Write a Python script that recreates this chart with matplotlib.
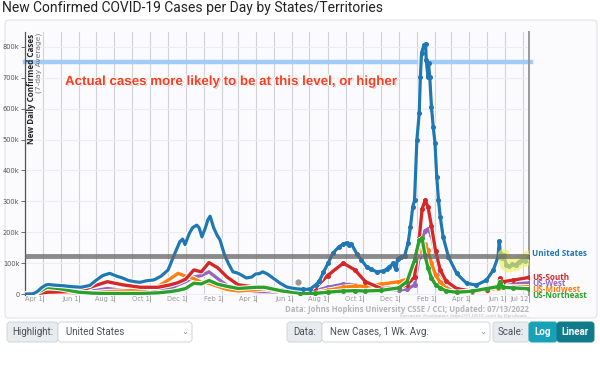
import numpy as np
import pandas as pd
import matplotlib
matplotlib.use('Agg')
import matplotlib.pyplot as plt
import matplotlib.dates as mdates
import matplotlib.patheffects as pe
from matplotlib.patches import FancyBboxPatch
from matplotlib.ticker import FuncFormatter, MultipleLocator

# ---- data (7-day average of new cases, in thousands) ----
us_dates = ['2020-03-01', '2020-03-15', '2020-03-22', '2020-03-29', '2020-04-05', '2020-04-10',
            '2020-04-20', '2020-05-05', '2020-05-20', '2020-06-05', '2020-06-20', '2020-07-01',
            '2020-07-12', '2020-07-24', '2020-08-05', '2020-08-15', '2020-08-25', '2020-09-05',
            '2020-09-14', '2020-09-25', '2020-10-08', '2020-10-20', '2020-11-01', '2020-11-10',
            '2020-11-21', '2020-11-26', '2020-11-30', '2020-12-07', '2020-12-13', '2020-12-20',
            '2020-12-24', '2020-12-29', '2021-01-04', '2021-01-08', '2021-01-12', '2021-01-18',
            '2021-01-24', '2021-01-29', '2021-02-05', '2021-02-12', '2021-02-20', '2021-02-28',
            '2021-03-08', '2021-03-15', '2021-03-24', '2021-03-31', '2021-04-06', '2021-04-12',
            '2021-04-20', '2021-05-01', '2021-05-12', '2021-05-23', '2021-06-05', '2021-06-20',
            '2021-07-02', '2021-07-12', '2021-07-18', '2021-07-25', '2021-08-02', '2021-08-10',
            '2021-08-20', '2021-08-28', '2021-09-03', '2021-09-07', '2021-09-11', '2021-09-20',
            '2021-09-28', '2021-10-07', '2021-10-15', '2021-10-24', '2021-11-04', '2021-11-10',
            '2021-11-15', '2021-11-21', '2021-11-26', '2021-11-29', '2021-12-05', '2021-12-11',
            '2021-12-17', '2021-12-21', '2021-12-25', '2021-12-28', '2022-01-01', '2022-01-05',
            '2022-01-07', '2022-01-09', '2022-01-13', '2022-01-16', '2022-01-17', '2022-01-20',
            '2022-01-21', '2022-01-23', '2022-01-26', '2022-01-29', '2022-02-01', '2022-02-04',
            '2022-02-07', '2022-02-10', '2022-02-15', '2022-02-24', '2022-03-10', '2022-03-27',
            '2022-04-13', '2022-04-30', '2022-05-12', '2022-05-20', '2022-05-22', '2022-05-24',
            '2022-05-27', '2022-05-30', '2022-06-03', '2022-06-08', '2022-06-13', '2022-06-19',
            '2022-06-25', '2022-06-30', '2022-07-05', '2022-07-12']
us_cases = [0, 1, 8, 20, 29, 31,
            29, 27, 24, 22, 28, 45,
            60, 67, 58, 52, 44, 40,
            38, 43, 46, 58, 78, 120,
            169, 178, 160, 195, 215, 223,
            215, 185, 215, 240, 252, 215,
            190, 175, 130, 100, 72, 68,
            60, 52, 55, 65, 66, 72,
            65, 50, 35, 23, 18, 15,
            16, 30, 42, 70, 100, 132,
            152, 162, 166, 158, 162, 131,
            110, 88, 80, 72, 75, 80,
            88, 99, 80, 115, 120, 124,
            165, 218, 283, 304, 498, 585,
            703, 780, 806, 810, 757, 703,
            747, 703, 606, 541, 489, 380,
            304, 250, 185, 121, 67, 35,
            29, 45, 78, 121, 172, 132,
            116, 126, 95, 90, 96, 94,
            105, 110, 108, 121]

region_dates = ['2020-03-01', '2020-03-20', '2020-04-08', '2020-05-01', '2020-06-01', '2020-06-25',
                '2020-07-20', '2020-08-15', '2020-09-15', '2020-10-15', '2020-11-05', '2020-11-18',
                '2020-12-01', '2020-12-15', '2020-12-28', '2021-01-10', '2021-01-25', '2021-02-10',
                '2021-03-01', '2021-04-01', '2021-04-15', '2021-05-15', '2021-06-15', '2021-07-10',
                '2021-08-01', '2021-08-28', '2021-09-17', '2021-10-05', '2021-11-01', '2021-12-01',
                '2021-12-15', '2021-12-28', '2022-01-05', '2022-01-10', '2022-01-15', '2022-01-20',
                '2022-01-26', '2022-02-02', '2022-02-10', '2022-02-20', '2022-03-10', '2022-04-05',
                '2022-05-01', '2022-05-20', '2022-05-23', '2022-05-28', '2022-06-15', '2022-07-12']
south = [0, 1, 6, 7, 9, 25, 40, 30, 22, 22, 30, 37,
         48, 78, 72, 102, 85, 55, 30, 22, 20, 13, 8, 18,
         60, 100, 78, 40, 18, 20, 30, 55, 180, 275, 303, 283,
         220, 140, 78, 42, 18, 9, 14, 28, 51, 40, 45, 54]
west = [0, 1, 3, 3, 4, 10, 18, 12, 9, 10, 18, 30,
        40, 55, 60, 72, 50, 28, 12, 8, 8, 6, 5, 10,
        22, 32, 30, 22, 15, 14, 15, 30, 120, 180, 205, 210,
        190, 125, 67, 37, 12, 7, 12, 22, 35, 32, 34, 36]
midwest = [0, 1, 4, 5, 4, 4, 8, 10, 12, 25, 50, 67,
           58, 50, 38, 35, 25, 15, 10, 14, 16, 8, 3, 4,
           12, 22, 26, 25, 32, 40, 48, 85, 140, 155, 162, 142,
           100, 62, 38, 20, 7, 6, 12, 20, 30, 24, 23, 24]
northeast = [0, 3, 22, 17, 6, 3, 2, 2, 2, 4, 8, 12,
             18, 35, 33, 44, 32, 25, 18, 22, 22, 10, 3, 2,
             6, 10, 11, 10, 12, 20, 40, 110, 175, 180, 125, 85,
             52, 30, 20, 10, 6, 9, 18, 24, 40, 22, 20, 17]

marker_date = ['2021-06-12']
marker_cases = [40]

tick_dates = ['2020-04-01', '2020-06-01', '2020-08-01', '2020-10-01', '2020-12-01', '2021-02-01',
              '2021-04-01', '2021-06-01', '2021-08-01', '2021-10-01', '2021-12-01', '2022-02-01',
              '2022-04-01', '2022-06-01', '2022-07-12']
tick_labels = ['Apr 1', 'Jun 1', 'Aug 1', 'Oct 1', 'Dec 1', 'Feb 1', 'Apr 1', 'Jun 1',
               'Aug 1', 'Oct 1', 'Dec 1', 'Feb 1', 'Apr 1', 'Jun 1', 'Jul 12']

likely_level = 750
us_level = 122

# ---- figure ----
W, H = 600, 386
fig = plt.figure(figsize=(W / 100, H / 100), dpi=100)
fig.patch.set_facecolor('white')

# background layer in pixel coordinates
bg = fig.add_axes([0, 0, 1, 1], zorder=0)
bg.set_xlim(0, W)
bg.set_ylim(H, 0)
bg.axis('off')

bg.add_patch(FancyBboxPatch((5, 20), 592, 298, boxstyle='round,pad=0,rounding_size=4',
                            fc='#fbfbfd', ec='#e3e3e8', lw=0.8))
bg.text(2, 8, 'New Confirmed COVID-19 Cases per Day by States/Territories',
        fontsize=10, family='Roboto', color='#222', va='center', ha='left')

# widgets row
def box(x0, x1, fc, ec='#ced4da'):
    bg.add_patch(FancyBboxPatch((x0, 322), x1 - x0, 20, boxstyle='round,pad=0,rounding_size=3',
                                fc=fc, ec=ec, lw=0.7))

box(7, 58, '#e9ecef')
box(58, 192, 'white')
bg.text(32.5, 332, 'Highlight:', fontsize=7, family='Roboto', color='#495057', ha='center', va='center')
bg.text(66, 332, 'United States', fontsize=7, family='Roboto', color='#495057', ha='left', va='center')
bg.text(185, 331, '\u2304', fontsize=6, color='#888', ha='center', va='center')
box(287, 322, '#e9ecef')
box(322, 490, 'white')
bg.text(304.5, 332, 'Data:', fontsize=7, family='Roboto', color='#495057', ha='center', va='center')
bg.text(330, 332, 'New Cases, 1 Wk. Avg.', fontsize=7, family='Roboto', color='#495057',
        ha='left', va='center')
bg.text(483, 331, '\u2304', fontsize=6, color='#888', ha='center', va='center')
box(493, 529, '#e9ecef')
bg.text(511, 332, 'Scale:', fontsize=7, family='Roboto', color='#495057', ha='center', va='center')
box(529, 557, '#17a2b8', ec='#17a2b8')
box(557, 594, '#117a8b', ec='#117a8b')
bg.text(543, 332, 'Log', fontsize=7, family='Roboto', weight='bold', color='white', ha='center', va='center')
bg.text(575.5, 332, 'Linear', fontsize=7, family='Roboto', weight='bold', color='white', ha='center', va='center')

bg.text(529, 309, 'Data: Johns Hopkins University CSSE / CCI; Updated: 07/13/2022',
        fontsize=5.6, family='Open Sans', weight='bold', color='#b5b5b5', ha='right', va='center')
bg.text(529, 315.5, 'Interactive Visualization: https://91-DIVOC.com/ by @profwade_',
        fontsize=3.2, family='Open Sans', color='#b5b5b5', ha='right', va='center')

# main axes
ax = fig.add_axes([25 / W, 1 - 295 / H, (529 - 25) / W, (295 - 32) / H], zorder=1)
ax.set_facecolor('none')

def to_dt(lst):
    return pd.to_datetime(lst)

rd = to_dt(region_dates)
ud = to_dt(us_dates)
cut = pd.Timestamp('2021-06-10')
halo = [pe.Stroke(linewidth=3.8, foreground='white'), pe.Normal()]

series = [('US-West', west, '#9467bd'), ('US-Midwest', midwest, '#ff7f0e'),
          ('US-South', south, '#d62728'), ('US-Northeast', northeast, '#2ca02c')]
for name, vals, col in series:
    v = np.array(vals) * 1000
    ax.plot(rd, v, color=col, lw=2.4, path_effects=halo, zorder=3, solid_joinstyle='round')
    m = rd > cut
    ax.plot(rd[m], v[m], 'o', color=col, ms=2.6, zorder=3)

uv = np.array(us_cases) * 1000
ax.plot(ud, uv, color='#1f77b4', lw=2.3, path_effects=halo, zorder=4, solid_joinstyle='round')
m = ud > cut
ax.plot(ud[m], uv[m], 'o', color='#1f77b4', ms=2.6, zorder=4)

# yellow highlight on the latest US values
hm = ud >= pd.Timestamp('2022-05-30')
ax.plot(ud[hm], uv[hm], color='#f3ee5c', lw=9, alpha=0.65, solid_capstyle='round', zorder=5)

ax.plot(to_dt(marker_date), np.array(marker_cases) * 1000, 'o', color='#999', ms=3.5, zorder=4)

ax.axhline(likely_level * 1000, xmin=0, xmax=1.004, color='#9fcdf7', lw=3.2, zorder=2, clip_on=False)
ax.axhline(us_level * 1000, color='#666', alpha=0.75, lw=3.5, zorder=5)

ax.set_xlim(pd.Timestamp('2020-03-01'), pd.Timestamp('2022-07-12'))
ax.set_ylim(-3000, 848000)

ax.xaxis.set_minor_locator(mdates.MonthLocator())
ax.set_xticks(to_dt(tick_dates))
ax.set_xticklabels(tick_labels)
for lab in ax.get_xticklabels():
    lab.set_ha('right')
ax.tick_params(axis='x', which='major', labelsize=4.8, colors='#999', length=5, width=0.6, pad=-4.5)
ax.tick_params(axis='x', which='minor', length=0)
ax.grid(axis='x', which='minor', color='#d2d2d6', lw=0.8)
ax.grid(axis='x', which='major', color='#d2d2d6', lw=0.8)

ax.yaxis.set_major_locator(MultipleLocator(100000))
ax.yaxis.set_major_formatter(FuncFormatter(lambda v, p: '0' if v == 0 else f'{int(v / 1000)}k'))
ax.tick_params(axis='y', labelsize=4.8, colors='#555', length=3, width=0.6, pad=1)
ax.grid(axis='y', color='#ececf1', lw=0.8)
ax.set_axisbelow(True)

for s in ['top', 'bottom']:
    ax.spines[s].set_visible(False)
ax.spines['left'].set_color('#555')
ax.spines['left'].set_linewidth(0.9)
ax.spines['right'].set_color('#999')
ax.spines['right'].set_linewidth(1.4)

ax.text(31, 34, 'New Daily Confirmed Cases', transform=bg.transData, rotation=90,
        fontsize=5.8, weight='bold', family='Open Sans', color='#222', ha='center', va='top', zorder=6)
ax.text(38.5, 33, '(7-day Average)', transform=bg.transData, rotation=90,
        fontsize=5.4, family='DejaVu Sans', color='#707070', ha='center', va='top', zorder=6)

ax.text(65, 82, 'Actual cases more likely to be at this level, or higher', transform=bg.transData,
        fontsize=9.6, weight='bold', family='Liberation Sans', color='#ff3b1f', ha='left', va='center',
        zorder=6, path_effects=[pe.withSimplePatchShadow(offset=(0.7, -0.7), shadow_rgbFace='#7a1a10', alpha=0.6),
                                pe.withStroke(linewidth=1.5, foreground='white')])

labels = [('United States', 254, '#1f77b4'), ('US-South', 278, '#d62728'),
          ('US-West', 284, '#9467bd'), ('US-Midwest', 290, '#ff7f0e'),
          ('US-Northeast', 296, '#2ca02c')]
for txt, y, col in labels:
    ax.text(532, y, txt, transform=bg.transData, fontsize=5.9, weight='bold', family='Open Sans',
            color=col, ha='left', va='center', zorder=6, clip_on=False)

fig.savefig('out.png', dpi=100)
